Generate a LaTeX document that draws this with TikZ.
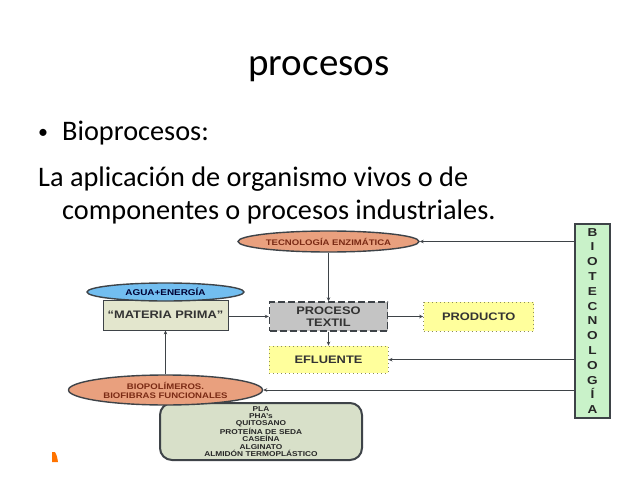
\documentclass[tikz,border=0pt]{standalone}
\usepackage{fontspec}
\setmainfont{Carlito}
\newfontfamily\diagfont[FakeStretch=1.18]{Liberation Sans}
\usetikzlibrary{arrows.meta,calc,positioning,shapes.geometric}

\definecolor{salmon}{HTML}{E9A07E}
\definecolor{skyblue}{HTML}{72BEF0}
\definecolor{beige}{HTML}{E3E6CD}
\definecolor{procgray}{HTML}{C4C4C4}
\definecolor{paleyellow}{HTML}{FFFF9C}
\definecolor{sage}{HTML}{D8E0C9}
\definecolor{mint}{HTML}{C9F2C9}
\definecolor{edge}{HTML}{3E4348}
\definecolor{maroon}{HTML}{7A2A14}
\definecolor{dotline}{HTML}{8C8C5A}

\begin{document}
\begin{tikzpicture}[
  x=1pt,y=-1pt,
  node distance=14pt and 35pt,
  lbl/.style={font=\diagfont\bfseries\fontsize{10.9}{12}\selectfont,text=black!80,align=center,inner sep=0pt},
  oval/.style={ellipse,draw=edge,line width=1.4pt,inner sep=0pt,align=center},
  mpbox/.style={lbl,draw=edge,line width=0.8pt,fill=beige},
  procbox/.style={lbl,draw=edge,line width=1.4pt,dash pattern=on 7pt off 3pt,fill=procgray},
  outbox/.style={lbl,draw=dotline,line width=1pt,dash pattern=on 1pt off 3pt,fill=paleyellow},
  arr/.style={-{Stealth[length=4pt,width=3.5pt]},draw=edge,line width=0.8pt}
]
  \useasboundingbox (0,0) rectangle (638,479);

  % slide text
  \node[font=\fontsize{39}{47}\selectfont,inner sep=0pt,anchor=base] (title) at (319,75) {procesos};
  \node[font=\fontsize{20}{24}\selectfont,inner sep=0pt,anchor=base west] (bullet) at (38,138) {•};
  \node[font=\fontsize{28.3}{34}\selectfont,inner sep=0pt,anchor=base west] (sub) at (62,140) {Bioprocesos:};
  \node[font=\fontsize{28.3}{34}\selectfont,inner sep=0pt,anchor=base west] (line1) at (38,186) {La aplicación de organismo vivos o de};
  \node[font=\fontsize{28.3}{34}\selectfont,inner sep=0pt,anchor=base west] (line2) at (62,219) {componentes o procesos industriales.};

  % diagram
  \node[procbox,minimum width=118pt,minimum height=29pt] (proc) at (328.5,316.5) {PROCESO\\TEXTIL};
  \node[outbox,minimum width=110pt,minimum height=29pt,right=of proc] (prod) {PRODUCTO};
  \node[outbox,minimum width=119pt,minimum height=27pt,below=of proc] (eflu) {EFLUENTE};

  \node[oval,fill=salmon,minimum width=181pt,minimum height=21pt,
        font=\diagfont\bfseries\fontsize{8.1}{9}\selectfont,text=maroon] (tec) at (328.5,241.5) {TECNOLOGÍA ENZIMÁTICA};

  \node[mpbox,minimum width=125pt,minimum height=30pt] (mp) at (165.5,315) {“MATERIA PRIMA”};
  \node[oval,fill=skyblue,minimum width=157pt,minimum height=18pt,
        font=\diagfont\bfseries\fontsize{8.4}{9}\selectfont,text=black!80!blue] (agua) at (165.5,292) {AGUA+ENERGÍA};

  \node[draw=edge,line width=2pt,rounded corners=12pt,fill=sage,minimum width=202pt,minimum height=57pt,
        align=center,inner sep=0pt,font=\diagfont\bfseries\fontsize{7.05}{7.3}\selectfont,text=black!85] (list) at (261,431.5)
    {PLA\\PHA’s\\QUITOSANO\\PROTEÍNA DE SEDA\\CASEÍNA\\ALGINATO\\ALMIDÓN TERMOPLÁSTICO};
  \node[oval,fill=salmon,minimum width=194pt,minimum height=30pt,
        font=\diagfont\bfseries\fontsize{8.1}{9}\selectfont,text=maroon] (bpol) at (165.5,390) {BIOPOLÍMEROS.\\BIOFIBRAS FUNCIONALES};

  \node[draw=edge,line width=1.2pt,fill=mint,minimum width=35pt,minimum height=194pt,inner sep=0pt,
        align=center,font=\diagfont\bfseries\fontsize{11.5}{14.8}\selectfont,text=black!85] (bio) at (592.5,321)
    {B\\I\\O\\T\\E\\C\\N\\O\\L\\O\\G\\Í\\A};

  \draw[arr] (bio.west |- tec.east) -- (tec.east);
  \draw[arr] (tec.south) -- (proc.north);
  \draw[arr] (mp.east |- proc.west) -- (proc.west);
  \draw[arr] (proc.east) -- (prod.west);
  \draw[arr] (proc.south) -- (eflu.north);
  \draw[arr] (bio.west |- eflu.east) -- (eflu.east);
  \draw[arr] (bio.west |- bpol.east) -- (bpol.east);
  \draw[arr] (bpol.north) -- (mp.south);

  % corner mark
  \fill[orange!90!red] (52,452) -- (55,452) .. controls (57,456) .. (58,462) -- (52,462) -- cycle;
\end{tikzpicture}
\end{document}
